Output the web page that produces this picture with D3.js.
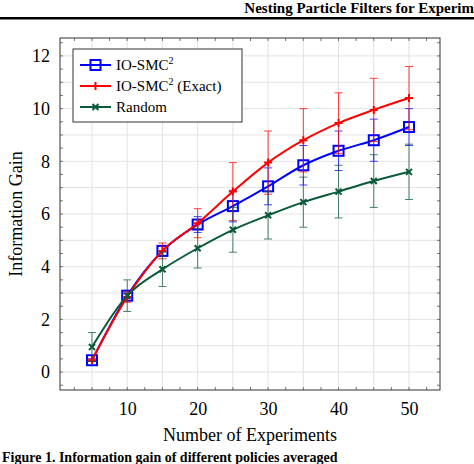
<!DOCTYPE html><html><head><meta charset="utf-8">
<script src="https://cdn.jsdelivr.net/npm/d3@7"></script>
<style>body{margin:0;background:#fff}svg,svg text{font-family:"Liberation Serif",serif}</style></head><body>
<svg id="c" width="474" height="464"></svg>
<script>
const xs=[5,10,15,20,25,30,35,40,45,50];
const blue=[0.45,2.9,4.6,5.6,6.3,7.05,7.85,8.4,8.8,9.3];
const blueErr=[0.05,0.1,0.2,0.3,0.6,0.7,0.75,0.75,0.8,0.7];
const red=[0.45,2.85,4.6,5.65,6.85,7.95,8.8,9.45,9.95,10.4];
const redErr=[0.05,0.2,0.3,0.55,1.1,1.2,1.2,1.15,1.2,1.2];
const green=[0.95,2.9,3.9,4.7,5.4,5.95,6.45,6.85,7.25,7.6];
const greenErr=[0.55,0.6,0.65,0.75,0.85,0.9,0.95,1.0,1.0,1.05];
const xTicks=[10,20,30,40,50], yTicks=[0,2,4,6,8,10,12];
const names=["IO-SMC²","IO-SMC² (Exact)","Random"];
const svg=d3.select("#c");
const L=60,R=440,T=38,B=390;
const x=d3.scaleLinear().domain([0.46,54.4]).range([L,R]);
const y=d3.scaleLinear().domain([-0.68,12.68]).range([B,T]);
svg.append("text").attr("x",474).attr("y",13).attr("text-anchor","end").attr("font-weight","bold").attr("font-size",15).text("Nesting Particle Filters for Experim");
svg.append("rect").attr("x",0).attr("y",17).attr("width",474).attr("height",2.5).attr("fill","#000");
const g=svg.append("g");
d3.range(5,55,5).forEach(v=>g.append("line").attr("x1",x(v)).attr("x2",x(v)).attr("y1",T).attr("y2",B).attr("stroke","#e3e3e3"));
d3.range(0,13,1).forEach(v=>g.append("line").attr("y1",y(v)).attr("y2",y(v)).attr("x1",L).attr("x2",R).attr("stroke","#e3e3e3"));
d3.range(2.5,54,2.5).forEach(v=>{[[B,-3],[T,3]].forEach(([b,d])=>g.append("line").attr("x1",x(v)).attr("x2",x(v)).attr("y1",b).attr("y2",b+d).attr("stroke","#777"))});
d3.range(-0.5,12.6,0.5).forEach(v=>{[[L,3],[R,-3]].forEach(([b,d])=>g.append("line").attr("y1",y(v)).attr("y2",y(v)).attr("x1",b).attr("x2",b+d).attr("stroke","#777"))});
svg.append("rect").attr("x",L).attr("y",T).attr("width",R-L).attr("height",B-T).attr("fill","none").attr("stroke","#333").attr("stroke-width",1);
const xa=svg.append("g").attr("transform",`translate(0,${B})`).call(d3.axisBottom(x).tickValues(xTicks).tickSize(0).tickPadding(12));
const ya=svg.append("g").attr("transform",`translate(${L},0)`).call(d3.axisLeft(y).tickValues(yTicks).tickSize(0).tickPadding(10));
[xa,ya].forEach(a=>{a.attr("font-family",null);a.select(".domain").remove();a.selectAll("text").attr("font-size",18).style("font-family","Liberation Serif, serif")});
svg.append("text").attr("x",(L+R)/2).attr("y",441).attr("text-anchor","middle").attr("font-size",18).text("Number of Experiments");
svg.append("text").attr("transform",`translate(22,${(T+B)/2}) rotate(-90)`).attr("text-anchor","middle").attr("font-size",18).text("Information Gain");
svg.append("text").attr("x",2).attr("y",462).attr("font-size",14).attr("font-weight","bold").text("Figure 1. Information gain of different policies averaged");
const series=[{v:blue,e:blueErr,c:"#0000ff",m:"sq"},{v:red,e:redErr,c:"#ff0000",m:"plus"},{v:green,e:greenErr,c:"#0a5a3a",m:"x"}];
function marker(sel,m,c,cx,cy){
 if(m=="sq")sel.append("rect").attr("x",cx-5).attr("y",cy-5).attr("width",10).attr("height",10).attr("fill","none").attr("stroke",c).attr("stroke-width",2);
 else if(m=="plus"){sel.append("path").attr("d",`M${cx-4},${cy}H${cx+4}M${cx},${cy-4}V${cy+4}`).attr("stroke",c).attr("stroke-width",2);}
 else sel.append("path").attr("d",`M${cx-3},${cy-3}L${cx+3},${cy+3}M${cx-3},${cy+3}L${cx+3},${cy-3}`).attr("stroke",c).attr("stroke-width",2);
}
series.forEach(s=>{
 const sg=svg.append("g");
 xs.forEach((xv,i)=>{const px=x(xv),a=y(s.v[i]+s.e[i]),b=y(s.v[i]-s.e[i]);
  sg.append("path").attr("d",`M${px},${a}V${b}M${px-4},${a}H${px+4}M${px-4},${b}H${px+4}`).attr("stroke",s.c).attr("stroke-width",1).attr("opacity",0.75);});
 sg.append("path").attr("d",d3.line().x((d,i)=>x(xs[i])).y(d=>y(d)).curve(d3.curveMonotoneX)(s.v)).attr("fill","none").attr("stroke",s.c).attr("stroke-width",2);
 xs.forEach((xv,i)=>marker(sg,s.m,s.c,x(xv),y(s.v[i])));
});
const lg=svg.append("g");
lg.append("rect").attr("x",73).attr("y",49).attr("width",169).attr("height",73).attr("fill","#fff").attr("stroke","#333");
series.forEach((s,i)=>{const yy=65+i*21;
 lg.append("line").attr("x1",80).attr("x2",111).attr("y1",yy).attr("y2",yy).attr("stroke",s.c).attr("stroke-width",2);
 marker(lg,s.m,s.c,95.5,yy);
 const t=lg.append("text").attr("x",116).attr("y",yy+5).attr("font-size",15);
 if(i<2){t.append("tspan").text("IO-SMC");t.append("tspan").attr("dy",-6).attr("font-size",10).text("2");if(i==1)t.append("tspan").attr("dy",6).text(" (Exact)");}
 else t.text(names[i]);
});
</script></body></html>
